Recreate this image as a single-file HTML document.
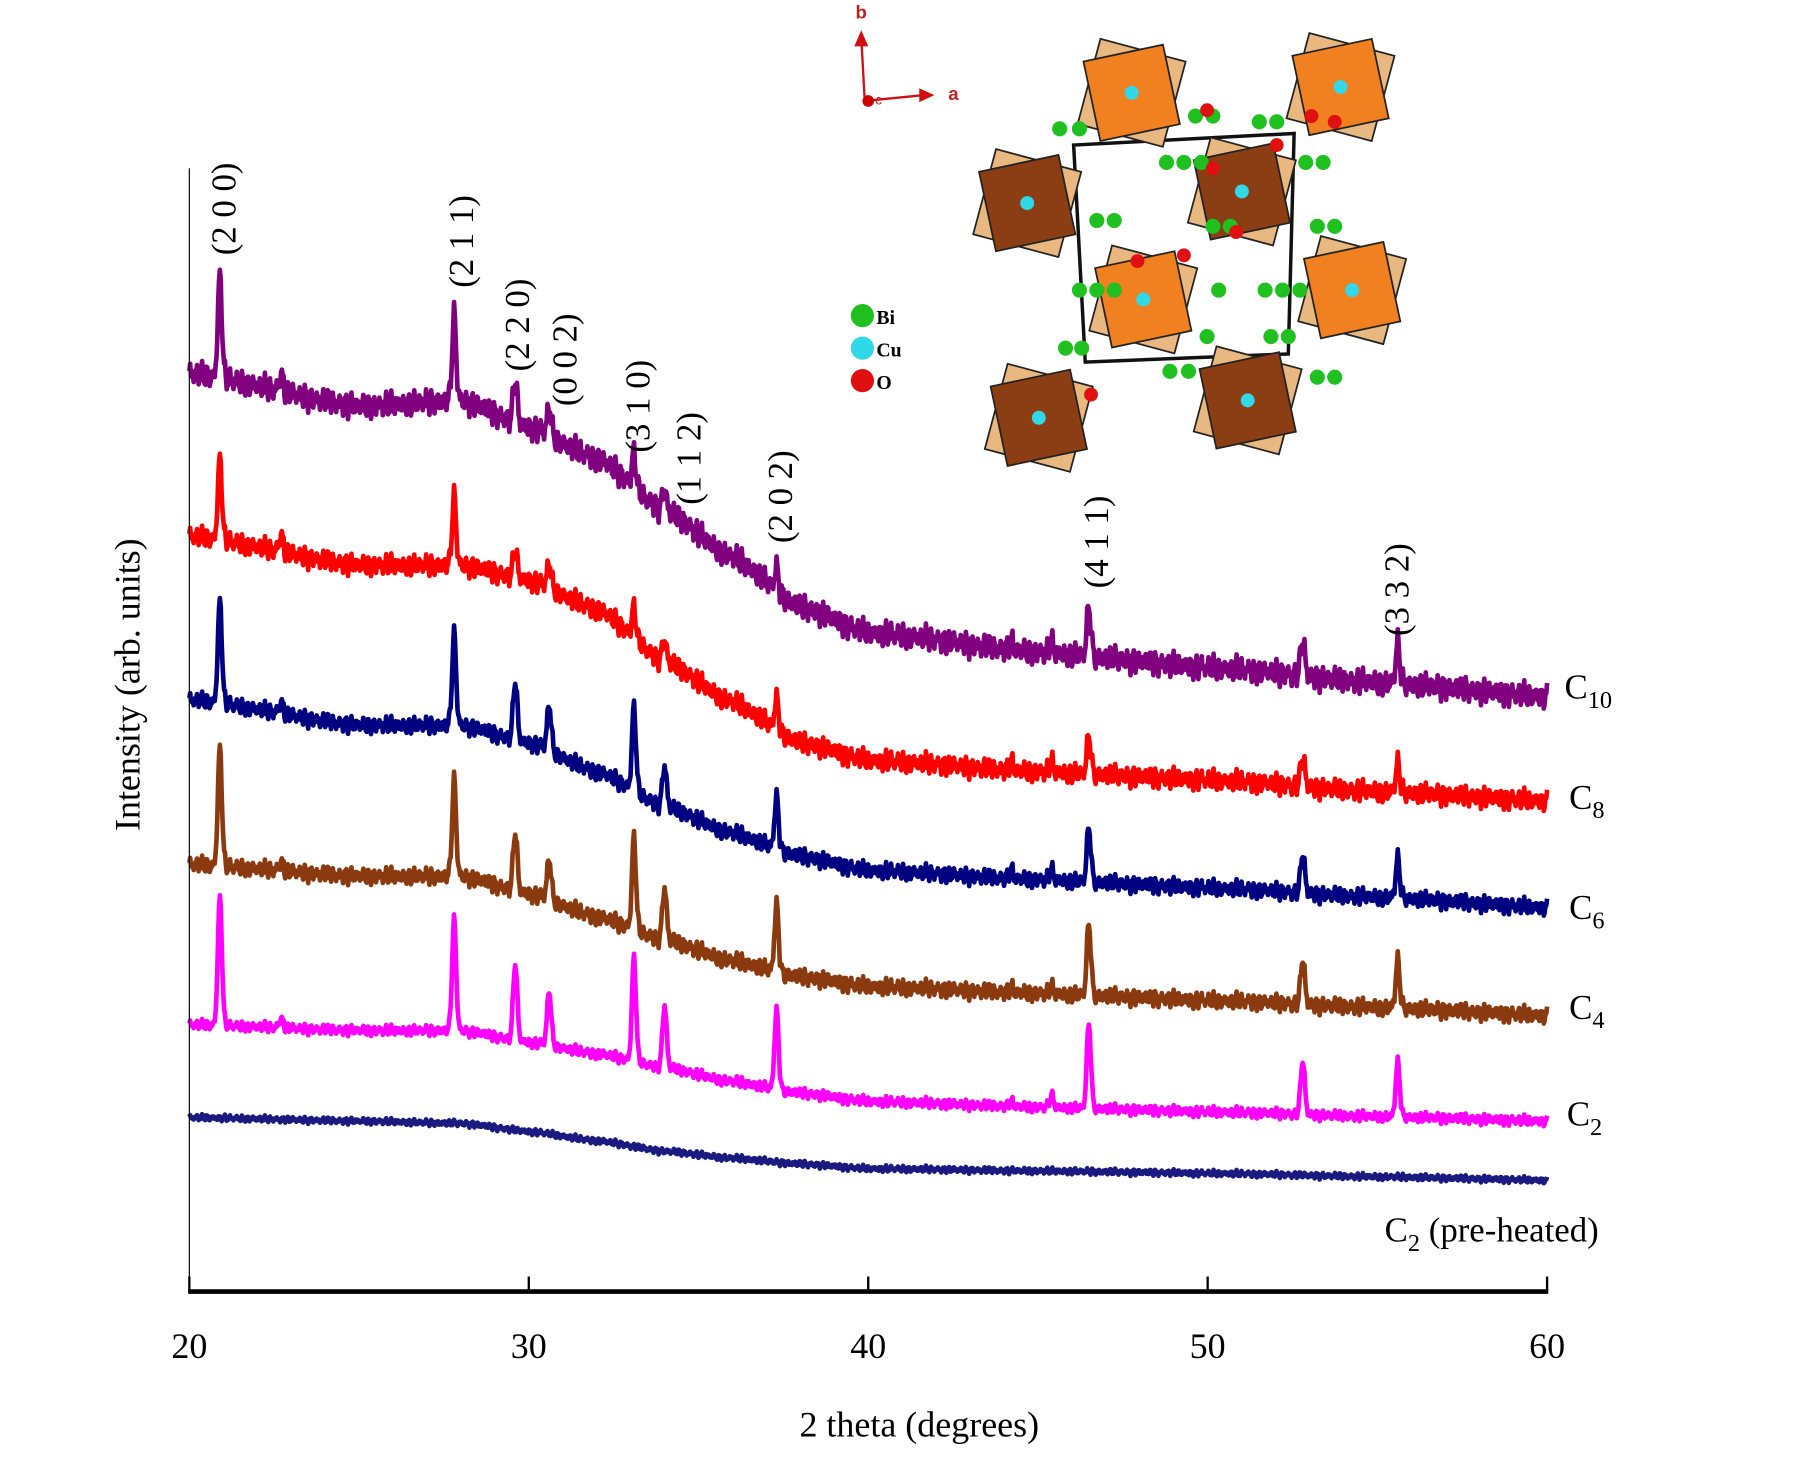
<!DOCTYPE html>
<html><head><meta charset="utf-8"><title>XRD patterns</title>
<style>
html,body{margin:0;padding:0;background:#fff;}
svg{display:block;font-family:"Liberation Serif",serif;}
</style></head>
<body>
<svg id="chart" width="1820" height="1468" viewBox="0 0 1568 1265" xmlns="http://www.w3.org/2000/svg">
  <rect x="0" y="0" width="1568" height="1265" fill="#fff"/>
  <g id="inset"></g>
  <g id="traces"></g>
  <g id="axes">
    <line x1="163" y1="145" x2="163" y2="1113" stroke="#000" stroke-width="1"/>
    <line x1="162" y1="1113" x2="1334" y2="1113" stroke="#000" stroke-width="4"/>
  </g>
  <g id="labels"></g>
  <text x="792" y="1238" font-size="31" text-anchor="middle">2 theta (degrees)</text>
  <text transform="translate(120,590) rotate(-90)" font-size="31" text-anchor="middle">Intensity (arb. units)</text>
</svg>
<script>
const NS="http://www.w3.org/2000/svg";
// ---- data ----
const xTicks=[20,30,40,50,60];
const knotX=[20,25,28,30,32,34,36,38,40,45,50,55,60];
const basePre=[150,147,145,138,130,121,115,110,106,104,102,99,96];
const baseC2=[230,225,225,215,205,193,181,171,164,159,155,151,147];
const baseC4=[368,358,358,343,323,303,285,271,263,257,251,245,238];
const baseC6=[510,488,488,473,448,418,395,375,363,355,348,340,331];
const baseC8=[651,626,626,613,588,543,508,473,458,448,441,431,423];
const baseC10=[791,763,768,745,718,673,633,590,568,551,538,525,513];
const peakPos=[20.9,22.7,27.8,29.6,30.6,33.1,34.0,37.3,44.2,45.4,46.5,52.8,55.6];
const hPre=[0,0,0,0,0,0,0,0,0,0,0,0,0];
const hC2=[110,8,95,67,47,89,54,68,5,10,73,47,47];
const hC4=[101,8,82,52,36,79,46,58,5,5,62,40,41];
const hC6=[87,10,78,52,40,72,36,45,8,8,47,35,34];
const hC8=[70,15,59,25,22,27,18,27,8,8,33,27,25];
const hC10=[88,15,73,38,25,30,18,20,8,8,43,33,35];
const noiseAmp=[1.5,2.5,4,4,5,6];
const seriesNames=["pre-heated","c2","c4","c6","c8","c10"];
const seriesColors=["#1a1a80","#ff00ff","#8b3a10","#000080","#ff0000","#800080"];
const bases=[basePre,baseC2,baseC4,baseC6,baseC8,baseC10];
const heights=[hPre,hC2,hC4,hC6,hC8,hC10];
const hklLabels=["(2 0 0)","(2 1 1)","(2 2 0)","(0 0 2)","(3 1 0)","(1 1 2)","(2 0 2)","(4 1 1)","(3 3 2)"];
const hklPos=[20.95,27.95,29.6,31.0,33.15,34.65,37.35,46.65,55.5];
const hklLevel=[893,865,793,763,723,678,645,606,565];
// ---- axes ----
const xs=d=>163+(d-20)*29.25;
const ys=v=>1113-v;
function interp(arr,x){for(let i=0;i<knotX.length-1;i++){if(x<=knotX[i+1]){const t=(x-knotX[i])/(knotX[i+1]-knotX[i]);const s=t*t*(3-2*t);return arr[i]+(arr[i+1]-arr[i])*(0.5*t+0.5*s);}}return arr[arr.length-1];}
const traces=document.getElementById('traces');
bases.forEach((b,si)=>{
  let d="";
  for(let x=20;x<=60.0001;x+=0.025){
    let v=interp(b,x);
    heights[si].forEach((h,k)=>{const dx=(x-peakPos[k])/0.06;v+=h*Math.exp(-0.5*dx*dx);});
    v+=noiseAmp[si]*(Math.sin(x*37.1)+0.7*Math.sin(x*91.3+1.7)+0.5*Math.sin(x*203.9+0.4));
    d+=(d?"L":"M")+xs(x).toFixed(1)+","+ys(v).toFixed(1);
  }
  const p=document.createElementNS(NS,'path');
  p.setAttribute('d',d);p.setAttribute('fill','none');
  p.setAttribute('stroke',seriesColors[si]);p.setAttribute('stroke-width','4');
  p.setAttribute('stroke-linejoin','round');
  
  
  traces.appendChild(p);
});
const axes=document.getElementById('axes');
xTicks.forEach(t=>{
  const l=document.createElementNS(NS,'line');
  l.setAttribute('x1',xs(t));l.setAttribute('x2',xs(t));l.setAttribute('y1',1100);l.setAttribute('y2',1113);
  l.setAttribute('stroke','#000');l.setAttribute('stroke-width','2');
  
  
  axes.appendChild(l);
  const tx=document.createElementNS(NS,'text');
  tx.setAttribute('x',xs(t));tx.setAttribute('y',1170);tx.setAttribute('font-size','31');tx.setAttribute('text-anchor','middle');
  tx.textContent=t;
  
  
  axes.appendChild(tx);
});
const labels=document.getElementById('labels');
hklLabels.forEach((s,i)=>{
  const tx=document.createElementNS(NS,'text');
  tx.setAttribute('transform','translate('+(xs(hklPos[i])+12)+','+ys(hklLevel[i])+') rotate(-90)');
  tx.setAttribute('font-size','30');
  tx.textContent=s;
  
  
  labels.appendChild(tx);
});
const serLab=[["C","2"," (pre-heated)",1193,1070],["C","2","",1350,970],["C","4","",1352,878],["C","6","",1352,792],["C","8","",1352,697],["C","10","",1348,602]];
serLab.forEach((s,i)=>{
  const tx=document.createElementNS(NS,'text');
  tx.setAttribute('x',s[3]);tx.setAttribute('y',s[4]);tx.setAttribute('font-size','30');
  tx.innerHTML=s[0]+'<tspan font-size="21" dy="8">'+s[1]+'</tspan><tspan dy="-8">'+s[2]+'</tspan>';
  
  
  labels.appendChild(tx);
});
// ---- inset crystal structure ----
const inset=document.getElementById('inset');
let h='';
h+='<line x1="745" y1="87" x2="742" y2="32" stroke="#d01010" stroke-width="2"/><polygon points="742,26 736,40 748,40" fill="#d01010"/>';
h+='<line x1="745" y1="87" x2="795" y2="82" stroke="#d01010" stroke-width="2"/><polygon points="805,82 792,76 792,88" fill="#d01010"/>';
h+='<circle cx="748" cy="87" r="5" fill="#c00"/><text x="737" y="16" font-size="16" font-family="Liberation Sans" font-weight="bold" fill="#c02020">b</text><text x="817" y="86" font-size="16" font-family="Liberation Sans" font-weight="bold" fill="#c02020">a</text><text x="754" y="90" font-size="12" font-family="Liberation Sans" fill="#c02020">c</text>';
h+='<polygon points="925,125 1115,115 1110,305 935,312" fill="none" stroke="#111" stroke-width="3"/>';
const oct=[[975,80,'#f08020'],[1155,75,'#f08020'],[885,175,'#8b3e14'],[1070,165,'#8b3e14'],[985,258,'#f08020'],[1165,250,'#f08020'],[895,360,'#8b3e14'],[1075,345,'#8b3e14']];
oct.forEach(o=>{
  h+='<g transform="translate('+o[0]+','+o[1]+')"><rect x="-38" y="-38" width="76" height="76" fill="#e8b880" stroke="#222" stroke-width="1.5" transform="rotate(15)"/><rect x="-35" y="-35" width="70" height="70" fill="'+o[2]+'" stroke="#222" stroke-width="1.5" transform="rotate(-12)"/><circle cx="0" cy="0" r="6" fill="#30d8e8"/></g>';
});
const green=[[913,111],[930,111],[1005,140],[1020,140],[1035,140],[1085,105],[1100,105],[1125,140],[1140,140],[945,190],[960,190],[1045,195],[1060,195],[1135,195],[1150,195],[945,250],[930,250],[960,250],[1050,250],[1090,250],[1105,250],[1120,250],[918,300],[932,300],[1008,320],[1024,320],[1040,290],[1095,290],[1110,290],[1135,325],[1150,325],[1030,100],[1045,100]];
green.forEach(g=>{h+='<circle cx="'+g[0]+'" cy="'+g[1]+'" r="6.5" fill="#20c020"/>';});
const red=[[1040,95],[1150,105],[1100,125],[1045,145],[1065,200],[1020,220],[980,225],[940,340],[1130,100]];
red.forEach(g=>{h+='<circle cx="'+g[0]+'" cy="'+g[1]+'" r="6" fill="#e01010"/>';});
h+='<circle cx="743" cy="272" r="10" fill="#20c020"/><text x="755" y="279" font-size="17" font-weight="bold">Bi</text>';
h+='<circle cx="743" cy="300" r="10" fill="#30d8e8"/><text x="755" y="307" font-size="17" font-weight="bold">Cu</text>';
h+='<circle cx="743" cy="328" r="10" fill="#e01010"/><text x="755" y="335" font-size="17" font-weight="bold">O</text>';
inset.innerHTML=h;
</script>
</body></html>
